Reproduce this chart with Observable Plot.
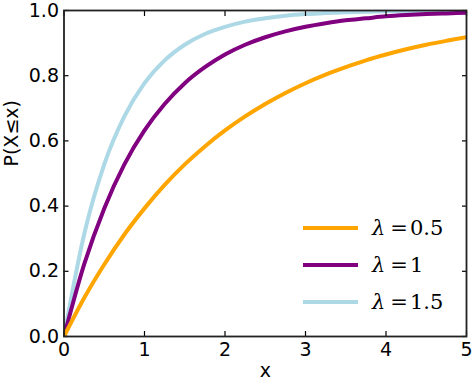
<!DOCTYPE html>
<html>
<head>
<meta charset="utf-8">
<script src="https://cdn.jsdelivr.net/npm/d3@7"></script>
<script src="https://cdn.jsdelivr.net/npm/@observablehq/plot@0.6"></script>
<style>
  html, body { margin: 0; padding: 0; background: white; }
  #wrap { position: relative; width: 474px; height: 381px; }
  #legend { position: absolute; left: 303px; top: 209.5px; font-family: "DejaVu Serif", serif; font-size: 21px; color: black; }
  .row { display: flex; align-items: center; height: 37px; }
  .sw { width: 55px; height: 4px; margin-right: 14px; }
  .lam { font-style: italic; margin-right: 5px; }
  .eq { margin-right: 2px; }
</style>
</head>
<body>
<div id="wrap"><div id="legend"></div></div>
<script>
const xs = [0, 0.25, 0.5, 0.75, 1, 1.25, 1.5, 1.75, 2, 2.25, 2.5, 2.75, 3, 3.25, 3.5, 3.75, 4, 4.25, 4.5, 4.75, 5];
const lambda05 = [0, 0.118, 0.221, 0.313, 0.393, 0.465, 0.528, 0.583, 0.632, 0.675, 0.713, 0.747, 0.777, 0.803, 0.826, 0.847, 0.865, 0.881, 0.895, 0.907, 0.918];
const lambda1 = [0, 0.221, 0.393, 0.528, 0.632, 0.713, 0.777, 0.826, 0.865, 0.895, 0.918, 0.936, 0.950, 0.961, 0.970, 0.976, 0.982, 0.986, 0.989, 0.991, 0.993];
const lambda15 = [0, 0.313, 0.528, 0.675, 0.777, 0.847, 0.895, 0.928, 0.950, 0.966, 0.976, 0.984, 0.989, 0.992, 0.995, 0.996, 0.998, 0.998, 0.999, 0.999, 0.999];
const seriesNames = ["0.5", "1", "1.5"];
const seriesColors = ["orange", "purple", "lightblue"];
const xTicks = [0, 1, 2, 3, 4, 5];
const yTicks = [0, 0.2, 0.4, 0.6, 0.8, 1.0];
const xLabel = "x";
const yLabel = "P(X≤x)";

const seriesValues = [lambda05, lambda1, lambda15];
const data = [];
// draw order: lightblue, purple, orange
[2, 1, 0].forEach(i => {
  xs.forEach((x, j) => data.push({series: seriesNames[i], x, y: seriesValues[i][j]}));
});

const chart = Plot.plot({
  width: 474,
  height: 381,
  marginLeft: 63.5,
  marginRight: 8,
  marginTop: 10,
  marginBottom: 45,
  style: {fontFamily: "DejaVu Sans, sans-serif", fontSize: "19px", color: "black", background: "white", overflow: "visible"},
  x: {domain: [0, 5]},
  y: {domain: [0, 1]},
  color: {domain: seriesNames, range: seriesColors},
  marks: [
    Plot.line(data, {x: "x", y: "y", z: "series", stroke: "series", strokeWidth: 4, curve: "monotone-x", clip: true}),
    Plot.axisX(xTicks, {anchor: "bottom", tickSize: 0, tickPadding: 6, tickFormat: d => d3.format("d")(d), label: xLabel, labelAnchor: "center", labelOffset: 40, labelArrow: "none"}),
    Plot.axisX(xTicks, {anchor: "bottom", tickSize: -5, tickFormat: () => "", label: null, strokeWidth: 1.2}),
    Plot.axisX(xTicks, {anchor: "top", tickSize: -5, tickFormat: () => "", label: null, strokeWidth: 1.2}),
    Plot.axisY(yTicks, {anchor: "left", tickSize: 0, tickPadding: 5, tickFormat: d3.format(".1f"), label: null}),
    Plot.text([yLabel], {text: d => d, frameAnchor: "left", rotate: -90, dx: -52, dy: -7, fontSize: 19}),
    Plot.axisY(yTicks, {anchor: "left", tickSize: -5, tickFormat: () => "", label: null, strokeWidth: 1.2}),
    Plot.axisY(yTicks, {anchor: "right", tickSize: -5, tickFormat: () => "", label: null, strokeWidth: 1.2}),
    Plot.frame({stroke: "#222", strokeWidth: 1.8})
  ]
});
const wrap = document.getElementById("wrap");
wrap.insertBefore(chart, wrap.firstChild);

const legend = document.getElementById("legend");
seriesNames.forEach((name, i) => {
  const row = document.createElement("div");
  row.className = "row";
  row.innerHTML = `<div class="sw" style="background:${seriesColors[i]}"></div><span class="lam">λ</span><span class="eq">=</span><span>${name}</span>`;
  legend.appendChild(row);
});
</script>
</body>
</html>
